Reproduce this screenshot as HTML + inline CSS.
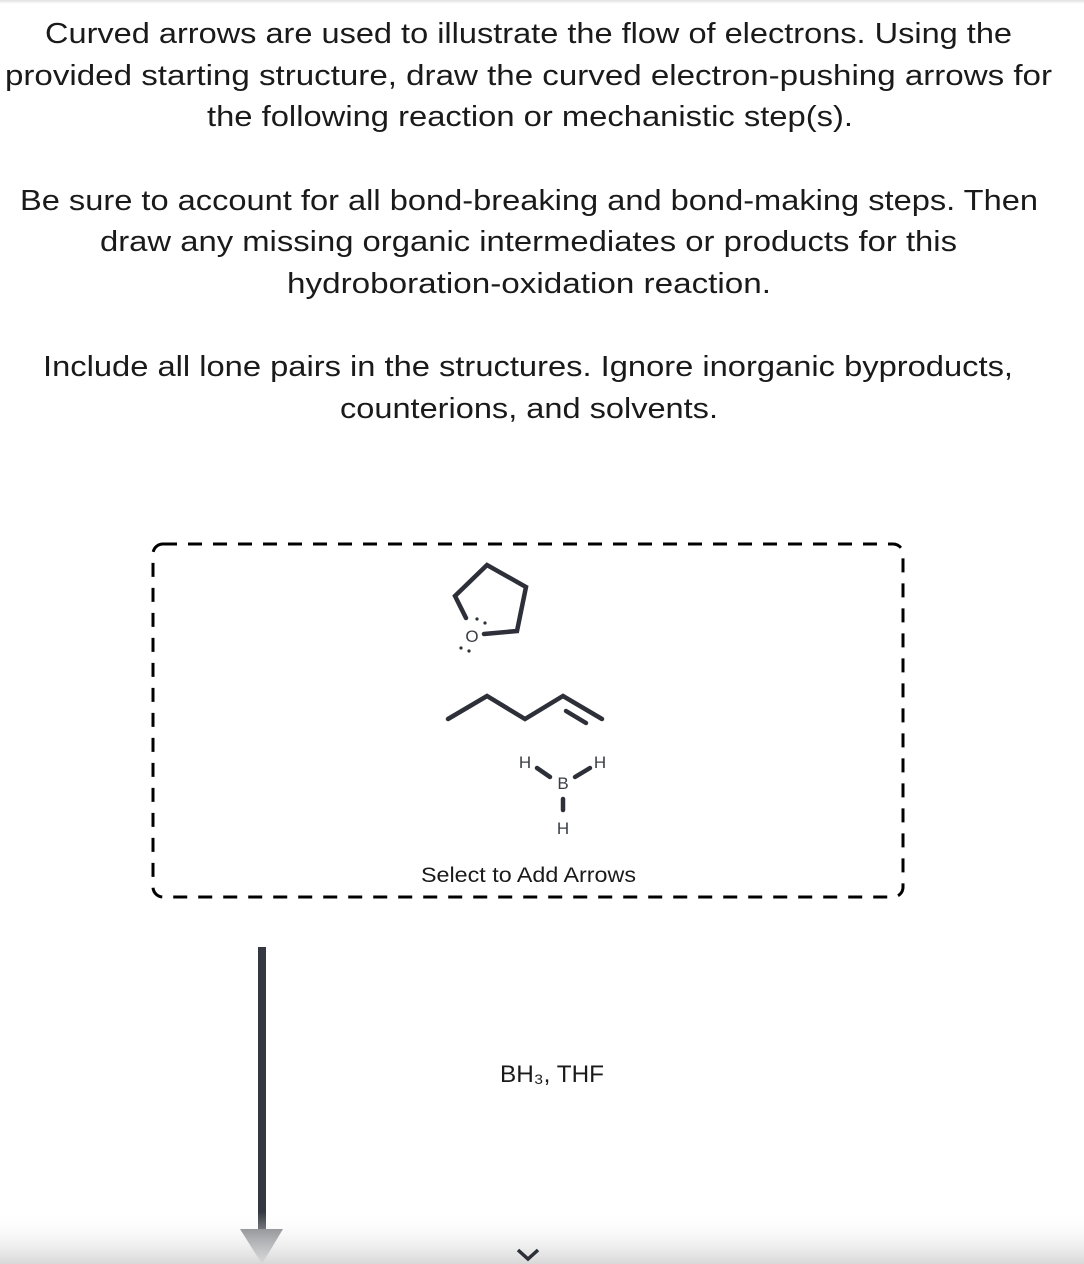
<!DOCTYPE html>
<html><head><meta charset="utf-8"><style>
html,body{margin:0;padding:0;background:#fff;}
svg{display:block;}
text{font-family:"Liberation Sans",sans-serif;fill:#1a1a1a;}
</style></head><body>
<svg width="1084" height="1264" viewBox="0 0 1084 1264" xmlns="http://www.w3.org/2000/svg">
<defs>
<linearGradient id="fade" x1="0" y1="0" x2="0" y2="1">
<stop offset="0" stop-color="#fff" stop-opacity="0"/>
<stop offset="1" stop-color="#d8d8d8" stop-opacity="1"/>
</linearGradient>
<linearGradient id="top" x1="0" y1="0" x2="0" y2="1">
<stop offset="0" stop-color="#e0e0e0"/>
<stop offset="1" stop-color="#fff"/>
</linearGradient>
</defs>
<rect x="0" y="0" width="1084" height="4" fill="url(#top)"/>
<g font-size="29">
<text x="45" y="43" textLength="967" lengthAdjust="spacingAndGlyphs">Curved arrows are used to illustrate the flow of electrons. Using the</text>
<text x="5" y="85" textLength="1047" lengthAdjust="spacingAndGlyphs">provided starting structure, draw the curved electron-pushing arrows for</text>
<text x="207" y="126" textLength="646" lengthAdjust="spacingAndGlyphs">the following reaction or mechanistic step(s).</text>
<text x="20" y="210" textLength="1018" lengthAdjust="spacingAndGlyphs">Be sure to account for all bond-breaking and bond-making steps. Then</text>
<text x="100" y="251" textLength="857" lengthAdjust="spacingAndGlyphs">draw any missing organic intermediates or products for this</text>
<text x="287" y="293" textLength="484" lengthAdjust="spacingAndGlyphs">hydroboration-oxidation reaction.</text>
<text x="43" y="376" textLength="970" lengthAdjust="spacingAndGlyphs">Include all lone pairs in the structures. Ignore inorganic byproducts,</text>
<text x="340" y="418" textLength="378" lengthAdjust="spacingAndGlyphs">counterions, and solvents.</text>
</g>
<rect x="153" y="544" width="750" height="353" rx="10" fill="none" stroke="#000" stroke-width="3" stroke-dasharray="14,11"/>
<g stroke="#2d3038" stroke-width="4.5" stroke-linecap="round" fill="none">
<polyline points="466,618 455,596 487,565 526,587 517,631 484,634"/>
<polyline points="448,719 487,696 525,719 563,696 602,719"/>
<line x1="566" y1="711" x2="586" y2="723"/>
<line x1="537" y1="768" x2="550" y2="777"/>
<line x1="575" y1="777" x2="590" y2="768"/>
<line x1="563" y1="799" x2="563" y2="810"/>
</g>
<g fill="#2d3038">
<circle cx="477" cy="619" r="1.6"/><circle cx="485" cy="623" r="1.6"/>
<circle cx="461" cy="648" r="1.6"/><circle cx="469" cy="651" r="1.6"/>
</g>
<g font-size="17" text-anchor="middle">
<text x="472" y="642" style="fill:#3a3d44">O</text>
<text x="525" y="768" style="fill:#3a3d44">H</text>
<text x="600" y="768" style="fill:#3a3d44">H</text>
<text x="563" y="789" style="fill:#3a3d44">B</text>
<text x="563" y="834" style="fill:#3a3d44">H</text>
</g>
<text x="421" y="882" font-size="21" textLength="215" lengthAdjust="spacingAndGlyphs">Select to Add Arrows</text>
<text x="500" y="1082" font-size="24" textLength="104" lengthAdjust="spacingAndGlyphs">BH₃, THF</text>
<rect x="258" y="947" width="8" height="285" fill="#353840"/>
<polygon points="240,1229 283,1229 262,1264" fill="#6a6d73"/>
<rect x="0" y="1212" width="1084" height="52" fill="url(#fade)"/>
<polyline points="518,1250 528,1259 538,1250" fill="none" stroke="#2d3038" stroke-width="3.5"/>
</svg>
</body></html>
